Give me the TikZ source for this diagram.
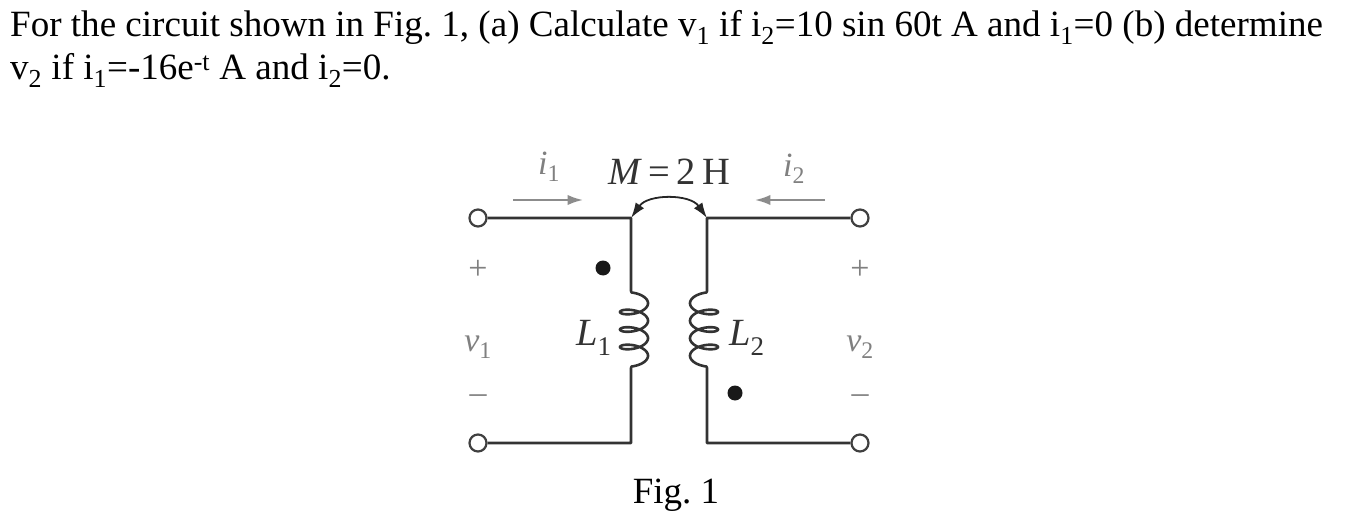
\documentclass[tikz,border=0pt]{standalone}
\usepackage{fontspec}
\setmainfont{Liberation Serif}
\frenchspacing
\usetikzlibrary{arrows.meta}
\tikzset{
>={Latex[width=3.6mm,length=5.4mm]},
	term/.style={
		circle,
		fill=white,
		draw=black!75, line width=2.2pt,
		inner sep=0pt,
		minimum size=17pt},
	wire/.style={
		draw=black!80, line width=2.6pt,
		line join=round},
	dotmark/.style={
		circle,
		fill=black!90,
		inner sep=0pt,
		minimum size=15pt},
	sense/.style={
		draw=black!45, line width=2pt},
	darklabel/.style={
		text=black!80,
		font=\fontsize{38.5}{38.5}\selectfont},
	greylabel/.style={
		text=black!50,
		font=\fontsize{34}{34}\selectfont},
	polarity/.style={
		text=black!50,
		font=\fontsize{34}{34}\selectfont}
}

\begin{document}
\begin{tikzpicture}
[x=1pt, y=1pt, node distance=225pt]
\useasboundingbox (0,0) rectangle (1349,523);
\node[anchor=north west, align=left, inner sep=0pt, font=\fontsize{37.05}{43}\selectfont] (question) at (10,513)
	{For the circuit shown in Fig. 1, (a) Calculate v\textsubscript{1} if i\textsubscript{2}=10 sin 60t A and i\textsubscript{1}=0 (b) determine\\
	v\textsubscript{2} if i\textsubscript{1}=-16e\textsuperscript{-t} A and i\textsubscript{2}=0.};
\node[term] (intop) at (478,305) {};
\node[term, below of=intop] (inbot) {};
\node[term] (outtop) at (860,305) {};
\node[term, below of=outtop] (outbot) {};
\coordinate (ltop) at (631,305);
\coordinate (lbot) at (631,80);
\coordinate (rtop) at (707,305);
\coordinate (rbot) at (707,80);
\coordinate (i1a) at (513,323);
\coordinate (i1b) at (583,323);
\coordinate (i2a) at (825,323);
\coordinate (i2b) at (755,323);
\node[dotmark] (dotl) at (603,255) {};
\node[dotmark] (dotr) at (735,130) {};
\draw[wire] (intop) -- (ltop) -- (631,232)
	-- plot[domain=-100:1180, samples=240, variable=\t] ({634+14*cos(\t)},{219.75-0.0486*\t-6*sin(\t)})
	-- (631,155) -- (lbot) -- (inbot);
\draw[wire] (outtop) -- (rtop) -- (707,232)
	-- plot[domain=-100:1180, samples=240, variable=\t] ({704-14*cos(\t)},{219.75-0.0486*\t-6*sin(\t)})
	-- (707,155) -- (rbot) -- (outbot);
\draw[sense, ->] (i1a) -- (i1b);
\draw[sense, ->] (i2a) -- (i2b);
\draw[black!85, line width=1.8pt, <->] (ltop) to[out=55, in=125] (rtop);
\node[darklabel] (mutual) at (669.5,351) {\textit{M}\,=\,2\,H};
\node[greylabel] (i1) at (549,356) {\textit{i}\textsubscript{1}};
\node[greylabel] (i2) at (794,354) {\textit{i}\textsubscript{2}};
\node[polarity] (plusl) at (478,253) {+};
\node[polarity] (plusr) at (860,253) {+};
\node[polarity] (minusl) at (478,124) {\textendash};
\node[polarity] (minusr) at (860,124) {\textendash};
\node[greylabel] (v1) at (478,176) {\textit{v}\textsubscript{1}};
\node[greylabel] (v2) at (860,176) {\textit{v}\textsubscript{2}};
\node[darklabel] (l1) at (594,185) {\textit{L}\textsubscript{1}};
\node[darklabel] (l2) at (747,185) {\textit{L}\textsubscript{2}};
\node[font=\fontsize{37}{37}\selectfont] (fig) at (676,28) {Fig. 1};
\end{tikzpicture}
\end{document}
